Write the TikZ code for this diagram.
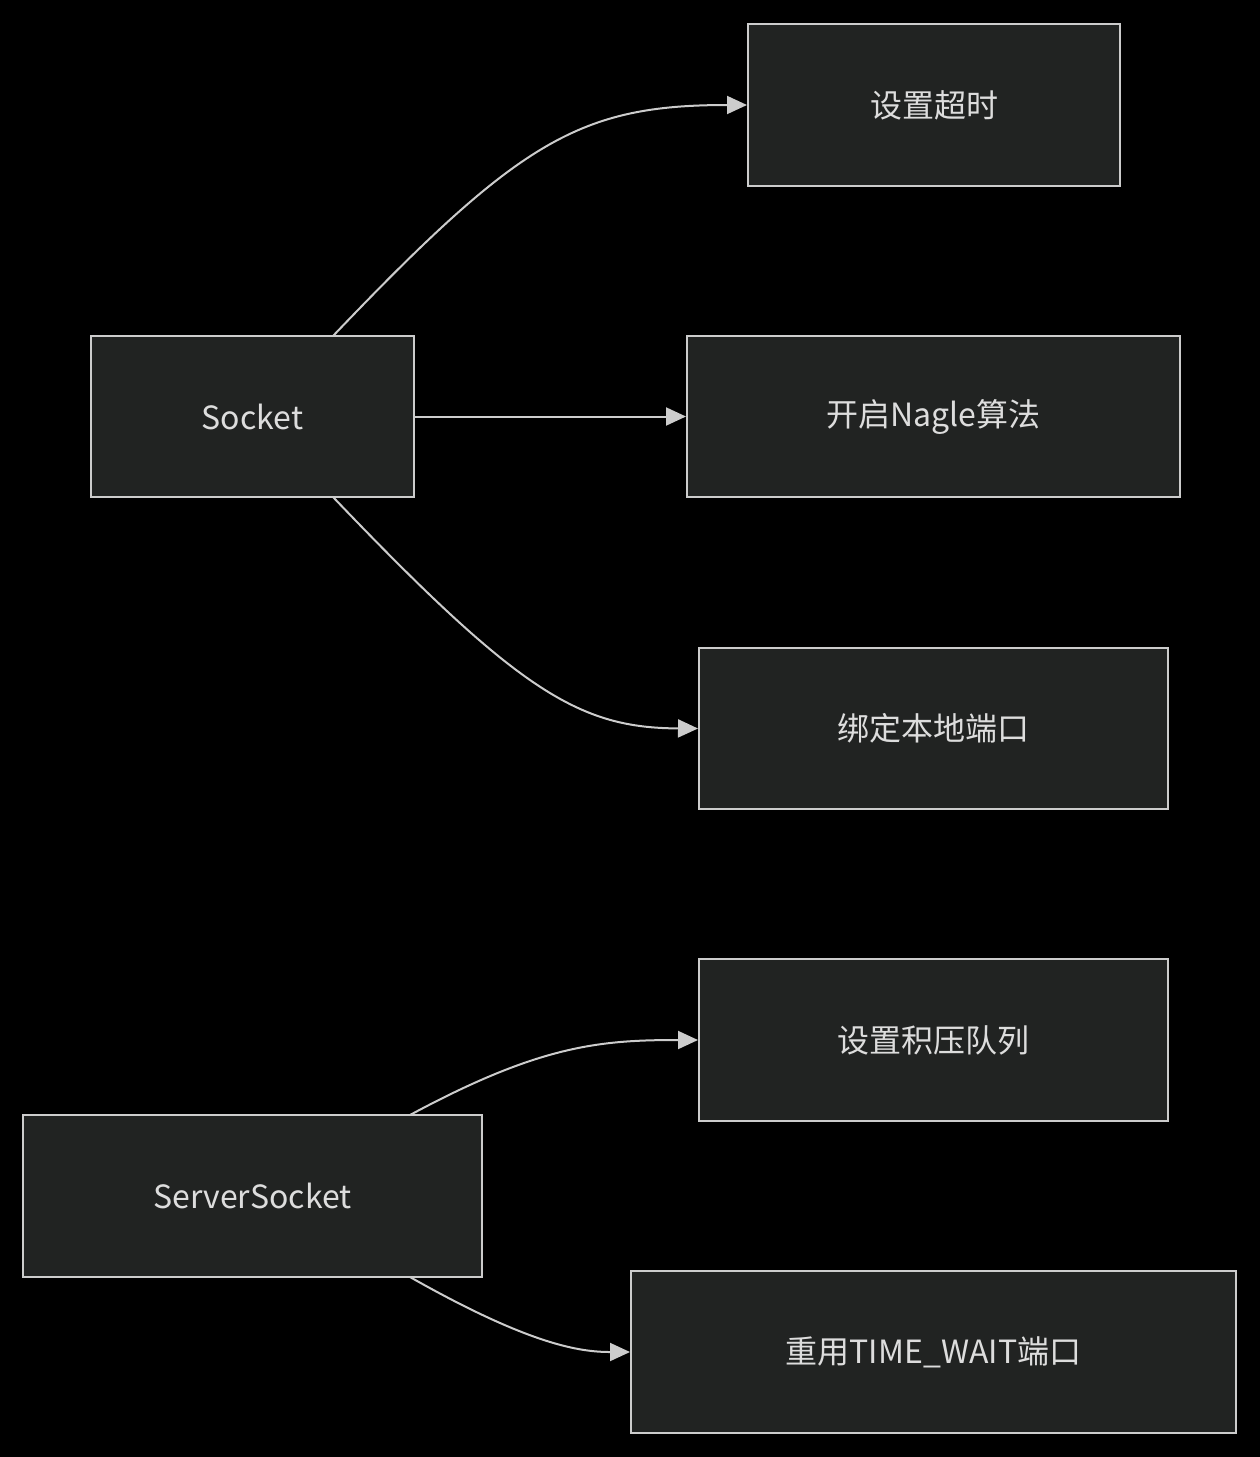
\documentclass[tikz,border=0pt]{standalone}
\usepackage{fontspec}
\setmainfont{Noto Sans CJK SC}
\usetikzlibrary{arrows.meta}
\definecolor{bx}{HTML}{212322}
\definecolor{ln}{HTML}{CCCCCC}
\definecolor{tx}{HTML}{DDDDDD}
\begin{document}
\begin{tikzpicture}[x=1pt,y=-1pt,
 box/.style={draw=ln,fill=bx,line width=2pt,text=tx,font=\fontsize{32}{38}\selectfont,inner sep=0pt},
 ar/.style={draw=ln,line width=2pt,-{Triangle[length=20pt,width=18pt]}}]
\fill[black] (0,0) rectangle (1260,1457);
\useasboundingbox (0,0) rectangle (1260,1457);
\node[box,minimum width=372,minimum height=162] (a) at (934,105) {设置超时};
\node[box,minimum width=323,minimum height=161] (s) at (252.5,416.5) {Socket};
\node[box,minimum width=493,minimum height=161] (b) at (933.5,416.5) {开启Nagle算法};
\node[box,minimum width=469,minimum height=161] (c) at (933.5,728.5) {绑定本地端口};
\node[box,minimum width=469,minimum height=162] (d) at (933.5,1040) {设置积压队列};
\node[box,minimum width=459,minimum height=162] (ss) at (252.5,1196) {ServerSocket};
\node[box,minimum width=605,minimum height=162] (e) at (933.5,1352) {重用TIME\_WAIT端口};
\coordinate (s1) at (333,336);
\coordinate (s2) at (333,497);
\coordinate (t1) at (410,1115);
\coordinate (t2) at (410,1277);
\draw[ar] (s1) .. controls (520,140) and (580,105) .. (a.west);
\draw[ar] (s.east) -- (b.west);
\draw[ar] (s2) .. controls (520,693) and (580,728) .. (c.west);
\draw[ar] (t1) .. controls (540,1045) and (600,1040) .. (d.west);
\draw[ar] (t2) .. controls (530,1345) and (580,1352) .. (e.west);
\end{tikzpicture}
\end{document}
